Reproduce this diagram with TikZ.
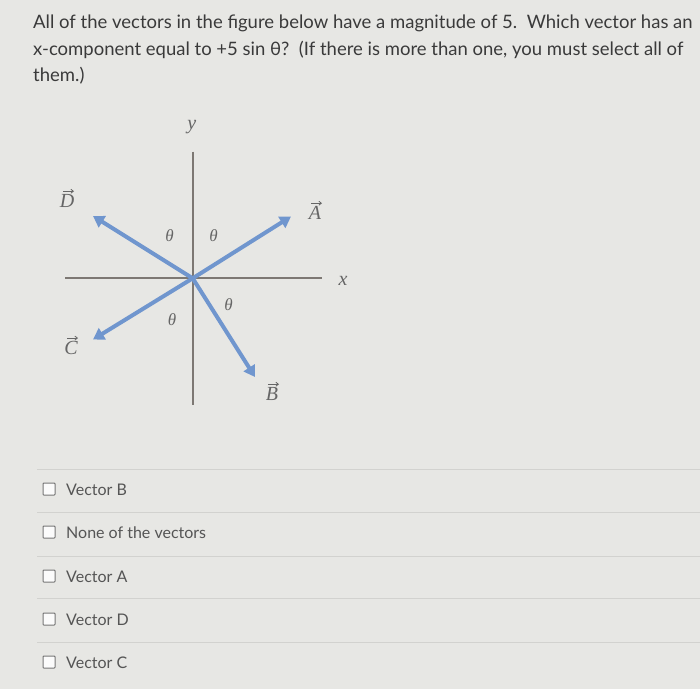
\documentclass[tikz,border=0pt]{standalone}
\usepackage{fontspec}
\setmainfont{Lato}
\newfontfamily\mathlike{Liberation Serif}
\usetikzlibrary{arrows.meta}

\definecolor{bgpage}{HTML}{E7E7E4}
\definecolor{textgray}{HTML}{3A3A3A}
\definecolor{optgray}{HTML}{555555}
\definecolor{rulegray}{HTML}{D2D2CF}
\definecolor{axisgray}{HTML}{7D7873}
\definecolor{vecblue}{HTML}{7096CE}
\definecolor{labgray}{HTML}{666666}

\tikzset{
  question/.style={anchor=base west,inner sep=0pt,text=textgray,font=\fontsize{18.5}{26}\selectfont},
  axis/.style={draw=axisgray,line width=2pt},
  vec/.style={draw=vecblue,line width=4pt,-{Triangle[length=11pt,width=13pt]}},
  veclabel/.style={text=labgray,inner sep=0pt,font=\mathlike\itshape\fontsize{20}{20}\selectfont},
  overarrow/.style={draw=labgray,line width=0.8pt,-{Straight Barb[length=2.5pt,width=4pt]}},
  anglabel/.style={text=labgray,inner sep=0pt,font=\mathlike\itshape\fontsize{17}{17}\selectfont},
  option/.style={anchor=base west,inner sep=0pt,text=optgray,font=\fontsize{16}{20}\selectfont},
  tickbox/.style={draw=optgray!80,fill=white!85!bgpage,line width=1pt,rounded corners=0.8pt,minimum size=12pt,inner sep=0pt},
}

\begin{document}
\begin{tikzpicture}[x=1pt,y=-1pt]
  % Hintergrund
  \fill[bgpage] (0,0) rectangle (700,689);
  \useasboundingbox (0,0) rectangle (700,689);

  % Fragetext
  \node[question] (q1) at (33,28) {All of the vectors in the figure below have a magnitude of 5.\ \ Which vector has an};
  \node[question] (q2) at (33,55) {x-component equal to +5 sin θ?\ \ (If there is more than one, you must select all of};
  \node[question] (q3) at (33,81) {them.)};

  % Achsen
  \coordinate (O) at (192.7,278.3);
  \coordinate (ytop) at (192.7,151.7);
  \coordinate (ybot) at (192.7,405);
  \coordinate (xleft) at (65,278.3);
  \coordinate (xright) at (321.7,278.3);
  \draw[axis] (ytop) -- (ybot);
  \draw[axis] (xleft) -- (xright);
  \node[veclabel] (ylab) at (191.7,127) {y};
  \node[veclabel] (xlab) at (343,281) {x};

  % Vektoren
  \coordinate (Atip) at (291,216.5);
  \coordinate (Btip) at (255,377);
  \coordinate (Ctip) at (93,339.5);
  \coordinate (Dtip) at (93,216);
  \draw[vec] (O) -- (Atip);
  \draw[vec] (O) -- (Btip);
  \draw[vec] (O) -- (Ctip);
  \draw[vec] (O) -- (Dtip);

  % Beschriftungen mit Pfeil
  \node[veclabel] (Alab) at (315,213) {A};
  \node[veclabel] (Blab) at (272,394) {B};
  \node[veclabel] (Clab) at (71,348) {C};
  \node[veclabel] (Dlab) at (67,201) {D};
  \foreach \lab in {Alab,Blab,Clab,Dlab}
    \draw[overarrow] ([xshift=-4pt,yshift=3pt]\lab.north) -- ([xshift=7pt,yshift=3pt]\lab.north);

  % Winkel
  \node[anglabel] (th1) at (169.5,236) {θ};
  \node[anglabel] (th2) at (213.5,236) {θ};
  \node[anglabel] (th3) at (228.5,305) {θ};
  \node[anglabel] (th4) at (172,320) {θ};

  % Antworten
  \foreach \ry in {469,512,556,598,642}
    \draw[rulegray,line width=0.8pt] (37,\ry) -- (700,\ry);
  \foreach \n/\cy/\txt in {b1/489/Vector B,b2/532/None of the vectors,b3/576/Vector A,b4/619/Vector D,b5/662/Vector C}{
    \node[tickbox] (\n) at (49,\cy) {};
    \node[option] (\n txt) at (66,\cy+6) {\txt};
  }
\end{tikzpicture}
\end{document}
